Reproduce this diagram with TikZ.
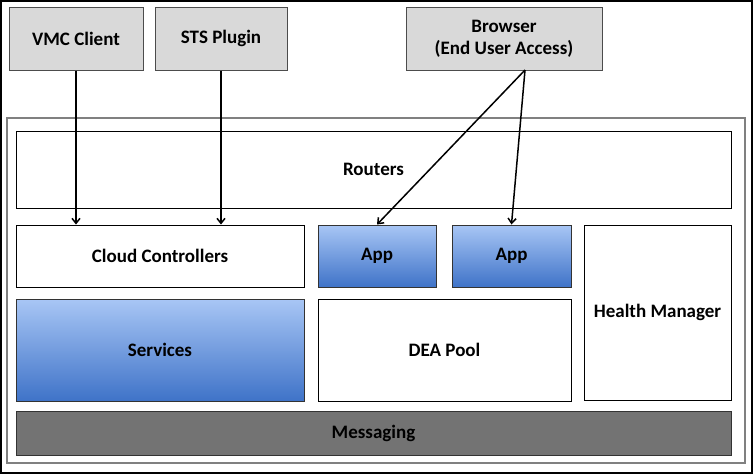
\documentclass[tikz,border=0pt]{standalone}
\usepackage{fontspec}
\setmainfont{Carlito}
\usetikzlibrary{arrows.meta}
\definecolor{apptop}{HTML}{A8C6F5}
\definecolor{appbot}{HTML}{3F73C8}
\begin{document}
\begin{tikzpicture}[x=1pt,y=-1pt,
  box/.style={draw, rectangle, inner sep=0pt, line width=1pt, font=\bfseries\fontsize{19}{22}\selectfont, align=center},
  client/.style={box, fill=black!15, draw=black!70},
  blue/.style={box, top color=apptop, bottom color=appbot, draw=black!80},
  link/.style={-{Straight Barb[length=5pt,width=8pt]}, line width=1.5pt}]
  \useasboundingbox (0,0) rectangle (754,475);
  % Rahmen.
  \draw[line width=1.5pt] (1,1) rectangle (752,473);
  \draw[black!50, line width=1.5pt] (7,118) rectangle (745,463);

  % Clients.
  \node[client, minimum width=134, minimum height=63] (vmc) at (76,38.5) {VMC Client};
  \node[client, minimum width=132, minimum height=63] (sts) at (221,38.5) {STS Plugin};
  \node[client, minimum width=196, minimum height=63] (browser) at (504,38.5) {Browser\\(End User Access)};

  % Komponenten.
  \node[box, minimum width=715, minimum height=77] (routers) at (373.5,169.5) {Routers};
  \node[box, minimum width=288, minimum height=62] (cc) at (160,256) {Cloud Controllers};
  \node[blue, minimum width=118, minimum height=62] (app1) at (377,256) {App};
  \node[blue, minimum width=119, minimum height=62] (app2) at (511.5,256) {App};
  \node[box, minimum width=147, minimum height=175] (hm) at (657.5,312.5) {Health Manager};
  \node[blue, minimum width=288, minimum height=102] (services) at (160,350) {Services};
  \node[box, minimum width=253, minimum height=102] (dea) at (444.5,350) {DEA Pool};
  \node[box, fill=black!55, minimum width=715, minimum height=44, draw=black!80] (msg) at (373.5,433) {Messaging};

  % Verbindungen.
  \draw[link] (vmc) -- (cc.north -| vmc);
  \draw[link] (sts) -- (cc.north -| sts);
  \coordinate (b) at (525,70);
  \draw[link] (b) -- (app1.north);
  \draw[link] (b) -- (app2.north);
\end{tikzpicture}
\end{document}
